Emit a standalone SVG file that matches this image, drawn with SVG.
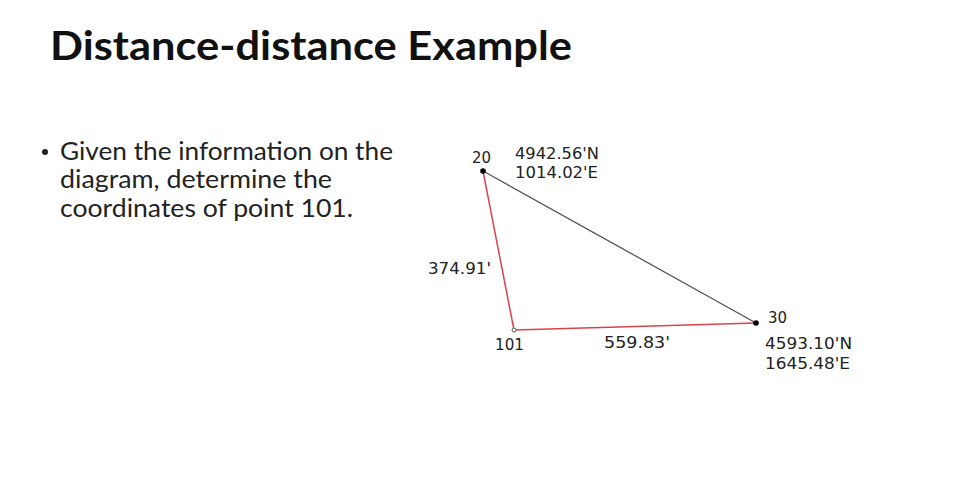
<svg xmlns="http://www.w3.org/2000/svg" width="955" height="481" viewBox="0 0 955 481">
<style>
.title{font-family:Lato,"Noto Sans","Open Sans",sans-serif;font-weight:700;font-size:40px;fill:#111}
.body{font-family:Lato,"Noto Sans","Open Sans",sans-serif;font-size:25.5px;fill:#222}
.lbl{font-family:"DejaVu Sans",Verdana,sans-serif;font-size:16px;fill:#222}
.red{stroke:#d9434f;stroke-width:1.5;fill:none}
.gray{stroke:#555;stroke-width:1.3;fill:none}
</style>
<rect width="955" height="481" fill="#fff"/>
<text class="title" x="50" y="60" textLength="522" lengthAdjust="spacingAndGlyphs">Distance-distance Example</text>
<circle cx="45" cy="152" r="3" fill="#222"/>
<text class="body" x="60" y="160" textLength="333" lengthAdjust="spacingAndGlyphs">Given the information on the</text>
<text class="body" x="60" y="188" textLength="272" lengthAdjust="spacingAndGlyphs">diagram, determine the</text>
<text class="body" x="60" y="217" textLength="293" lengthAdjust="spacingAndGlyphs">coordinates of point 101.</text>
<g id="connectors">
<line class="gray" x1="483" y1="171" x2="756" y2="323"/>
<line class="red" x1="483" y1="171" x2="514" y2="330"/>
<line class="red" x1="514" y1="330" x2="756" y2="323"/>
</g>
<g id="n20">
<circle cx="483" cy="171" r="2.8" fill="#000"/>
<text class="lbl" x="472" y="163" textLength="19" lengthAdjust="spacingAndGlyphs">20</text>
<text class="lbl" x="515" y="159" textLength="84" lengthAdjust="spacingAndGlyphs">4942.56'N</text>
<text class="lbl" x="515" y="178" textLength="83" lengthAdjust="spacingAndGlyphs">1014.02'E</text>
</g>
<g id="n30">
<circle cx="756" cy="323" r="2.8" fill="#000"/>
<text class="lbl" x="768" y="323" textLength="19" lengthAdjust="spacingAndGlyphs">30</text>
<text class="lbl" x="765" y="349" textLength="87" lengthAdjust="spacingAndGlyphs">4593.10'N</text>
<text class="lbl" x="765" y="369" textLength="85" lengthAdjust="spacingAndGlyphs">1645.48'E</text>
</g>
<g id="n101">
<circle cx="514" cy="330" r="2" fill="#fff" stroke="#555" stroke-width="1"/>
<text class="lbl" x="495" y="350" textLength="29" lengthAdjust="spacingAndGlyphs">101</text>
</g>
<g id="edge-labels">
<text class="lbl" x="428" y="274" textLength="63" lengthAdjust="spacingAndGlyphs">374.91'</text>
<text class="lbl" x="604" y="348" textLength="66" lengthAdjust="spacingAndGlyphs">559.83'</text>
</g>
</svg>
